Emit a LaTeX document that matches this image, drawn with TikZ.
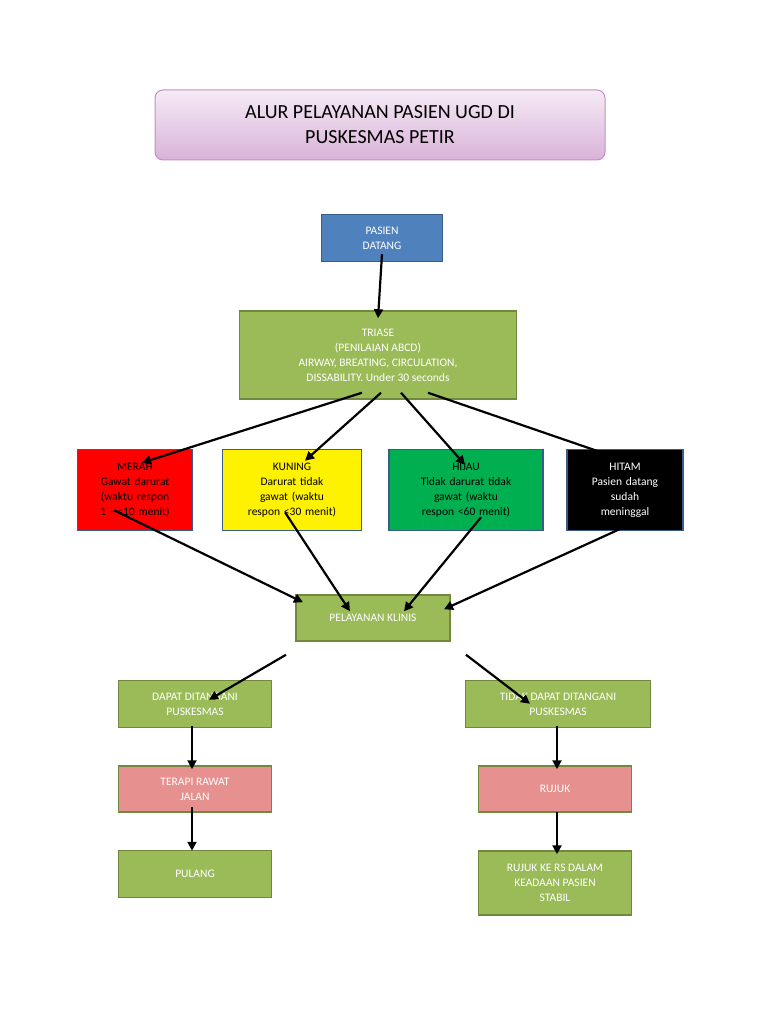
\documentclass[tikz,border=0pt]{standalone}
\usepackage{fontspec}
\setmainfont{Carlito}
\usetikzlibrary{arrows.meta}
\definecolor{ggreen}{HTML}{9BBB59}
\definecolor{gborder}{HTML}{71893F}
\definecolor{bblue}{HTML}{4F81BD}
\definecolor{bborder}{HTML}{385D8A}
\definecolor{ppink}{HTML}{E6908F}
\definecolor{hgreen}{HTML}{00B050}
\begin{document}
\begin{tikzpicture}[x=1pt,y=-1pt,
  box/.style={draw, line width=1.5pt, align=center, font=\fontsize{11.5}{15}\selectfont, inner sep=2pt},
  gbox/.style={box, fill=ggreen, draw=gborder, text=white},
  pbox/.style={box, fill=ppink, draw=gborder, text=white},
  cbox/.style={box, draw=bborder, text width=110pt},
  arr/.style={-{Triangle[length=9pt,width=9pt]}, line width=2.2pt}]
\useasboundingbox (0,0) rectangle (768,1024);
% title
\node[draw=violet!45, line width=1pt, rounded corners=8pt, top color=violet!8, bottom color=violet!30,
  minimum width=450pt, minimum height=70pt, align=center, font=\fontsize{20}{25}\selectfont]
  (title) at (380,125) {ALUR PELAYANAN PASIEN UGD DI\\PUSKESMAS PETIR};
\node[box, fill=bblue, draw=bborder, text=white, minimum width=121pt, minimum height=47pt] (pd) at (382,238) {PASIEN\\DATANG};
\node[gbox, minimum width=277pt, minimum height=88pt] (tri) at (378,355)
  {TRIASE\\(PENILAIAN ABCD)\\AIRWAY, BREATING, CIRCULATION,\\DISSABILITY. Under 30 seconds};
\node[cbox, fill=red, minimum width=115pt, minimum height=81pt, text width=105pt] (mer) at (135,490)
  {MERAH\\Gawat darurat\\(waktu respon\\1 - <10 menit)};
\node[cbox, fill=yellow, minimum width=139pt, minimum height=81pt, text width=125pt] (kun) at (292,490)
  {KUNING\\Darurat tidak\\gawat (waktu\\respon <30 menit)};
\node[cbox, fill=hgreen, minimum width=154pt, minimum height=81pt, text width=140pt] (hij) at (466,490)
  {HIJAU\\Tidak darurat tidak\\gawat (waktu\\respon <60 menit)};
\node[cbox, fill=black, text=white, minimum width=116pt, minimum height=81pt, text width=105pt] (hit) at (625,490)
  {HITAM\\Pasien datang\\sudah\\meninggal};
\node[gbox, minimum width=154pt, minimum height=46pt] (kl) at (373,618) {PELAYANAN KLINIS};
\node[gbox, minimum width=153pt, minimum height=47pt] (dap) at (195,704) {DAPAT DITANGANI\\PUSKESMAS};
\node[gbox, minimum width=185pt, minimum height=47pt] (tdk) at (558,704) {TIDAK DAPAT DITANGANI\\PUSKESMAS};
\node[pbox, minimum width=153pt, minimum height=46pt] (ter) at (195,789) {TERAPI RAWAT\\JALAN};
\node[pbox, minimum width=153pt, minimum height=46pt] (ruj) at (555,789) {RUJUK};
\node[gbox, minimum width=153pt, minimum height=47pt] (pul) at (195,874) {PULANG};
\node[gbox, minimum width=153pt, minimum height=64pt] (rrs) at (555,883) {RUJUK KE RS DALAM\\KEADAAN PASIEN\\STABIL};
% connectors
\draw[arr] ([yshift=8pt]pd.south) -- ([yshift=-8pt]tri.north);
\draw[arr] ([xshift=-16pt,yshift=7pt]tri.south) -- ([xshift=7pt,yshift=-14pt]mer.north);
\draw[arr] ([xshift=3pt,yshift=7pt]tri.south) -- ([xshift=13pt,yshift=-12pt]kun.north);
\draw[arr] ([xshift=23pt,yshift=7pt]tri.south) -- ([xshift=-1pt,yshift=-16pt]hij.north);
\draw[arr] ([xshift=50pt,yshift=7pt]tri.south) -- ([xshift=-8pt,yshift=-9pt]hit.north);
\draw[arr] ([xshift=-21pt,yshift=21pt]mer.south) -- ([xshift=-70pt,yshift=-8pt]kl.north);
\draw[arr] ([xshift=-7pt,yshift=19pt]kun.south) -- ([xshift=-23pt,yshift=-17pt]kl.north);
\draw[arr] ([xshift=15pt,yshift=14pt]hij.south) -- ([xshift=31pt,yshift=-17pt]kl.north);
\draw[arr] ([xshift=12pt,yshift=10pt]hit.south) -- ([xshift=71pt,yshift=-15pt]kl.north);
\draw[arr] ([xshift=-87pt,yshift=-13pt]kl.south) -- ([xshift=14pt,yshift=-20pt]dap.north);
\draw[arr] ([xshift=93pt,yshift=-13pt]kl.south) -- ([xshift=-28pt,yshift=-24pt]tdk.north);
\draw[arr] ([xshift=-3pt,yshift=2pt]dap.south) -- ([xshift=-3pt,yshift=-4pt]ter.north);
\draw[arr] ([xshift=-3pt,yshift=6pt]ter.south) -- ([xshift=-3pt,yshift=-1pt]pul.north);
\draw[arr] ([xshift=-1pt,yshift=2pt]tdk.south) -- ([xshift=2pt,yshift=-4pt]ruj.north);
\draw[arr] ([xshift=2pt,yshift=1pt]ruj.south) -- ([xshift=2pt,yshift=-4pt]rrs.north);
\end{tikzpicture}
\end{document}
